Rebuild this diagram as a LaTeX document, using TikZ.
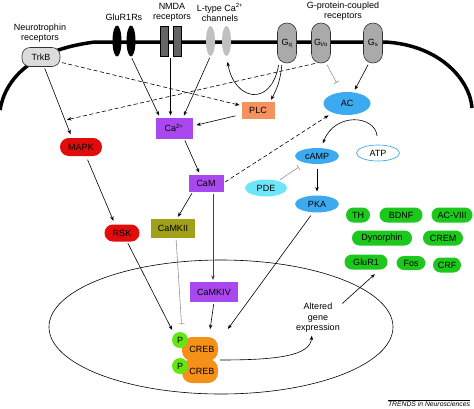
\documentclass[tikz,border=0pt]{standalone}
\usepackage{fontspec}
\setmainfont{Liberation Sans}
\usetikzlibrary{arrows.meta,calc,shapes.geometric}
\definecolor{cpurple}{RGB}{170,72,240}
\definecolor{cred}{RGB}{225,12,12}
\definecolor{cblue}{RGB}{60,170,240}
\definecolor{ccyan}{RGB}{110,230,250}
\definecolor{cgreen}{RGB}{28,200,28}
\definecolor{cpgreen}{RGB}{100,230,20}
\definecolor{corange}{RGB}{245,145,25}
\definecolor{cplc}{RGB}{245,145,95}
\definecolor{colive}{RGB}{160,160,25}
\definecolor{cgrec}{RGB}{170,170,170}
\definecolor{ctrk}{RGB}{220,220,220}
\definecolor{cltype}{RGB}{192,192,192}
\definecolor{cnmda}{RGB}{100,100,100}
\newcommand\figfont{\fontsize{9}{10.5}\selectfont}
\tikzset{
  base/.style={font=\figfont, inner sep=0pt, outer sep=0pt, text=black},
  lbl/.style={base, align=center},
  pbox/.style={base, rectangle, fill=cpurple},
  capsule/.style={base, rectangle, rounded corners=#1},
  oval/.style={base, ellipse},
  gene/.style={base, rectangle, fill=cgreen, rounded corners=7.4pt, minimum height=15pt},
  grec/.style={base, rectangle, fill=cgrec, draw=gray!40!black, line width=0.6pt, rounded corners=9.4pt, minimum width=19pt, minimum height=40pt},
  arr/.style={-{Stealth[length=4.5pt,width=3.5pt]}, line width=0.6pt, shorten >=2pt, shorten <=2pt},
  dsh/.style={dash pattern=on 4pt off 2.5pt},
  inh/.style={-{Bar[width=6pt]}, draw=gray!85, line width=0.6pt, shorten <=2pt},
}
\begin{document}
\begin{tikzpicture}[x=1pt,y=-1pt]
\useasboundingbox (0,0) rectangle (474,408);

% nucleus
\draw[line width=0.6pt] (221,327) ellipse [x radius=172pt, y radius=67pt];
% membrane
\draw[line width=3.5pt] (0,110) .. controls (5,80) and (30,50) .. (95,42) -- (385,42) .. controls (440,45) and (470,80) .. (472,108);

% receptors
\node[capsule=8pt, fill=ctrk, draw=gray!40!black, line width=0.6pt, minimum width=38pt, minimum height=19pt] (TrkB) at (41,57) {TrkB};
\node[lbl] (ntrlab) at (40,33) {Neurotrophin\\receptors};

\node[oval, fill=black, minimum width=9pt, minimum height=31pt] (GluR1) at (117,41) {};
\node[oval, fill=black, minimum width=9pt, minimum height=31pt] (GluR2) at (131,41) {};
\node[lbl] (glulab) at (124,17) {GluR1Rs};

\node[base, rectangle, fill=cnmda, draw=black, line width=0.5pt, minimum width=8pt, minimum height=30pt] (N1) at (164,41) {};
\node[base, rectangle, fill=cnmda, draw=black, line width=0.5pt, minimum width=8pt, minimum height=30pt] (N2) at (177,41) {};
\node[lbl] (nmdalab) at (172,12.5) {NMDA\\receptors};

\node[oval, fill=cltype, minimum width=9pt, minimum height=30pt] (L1) at (210.5,41) {};
\node[oval, fill=cltype, minimum width=9pt, minimum height=30pt] (L2) at (226.5,41) {};
\node[lbl] (ltlab) at (220,12.5) {L-type Ca\textsuperscript{2+}\\channels};

\node[grec] (Gq) at (287,43) {G\textsubscript{q}};
\node[grec] (Gio) at (321,43) {G\textsubscript{i/o}};
\node[grec] (Gs) at (373,43) {G\textsubscript{s}};
\node[lbl] (gpcrlab) at (343,11) {G-protein-coupled\\receptors};

% signalling nodes
\node[base, rectangle, fill=cplc, minimum width=33pt, minimum height=17pt] (PLC) at (258,110) {PLC};
\node[oval, fill=cblue, minimum width=47pt, minimum height=23pt] (AC) at (347,103.5) {AC};
\node[pbox, minimum width=37pt, minimum height=21pt] (Ca) at (174,128) {Ca\textsuperscript{2+}};
\node[pbox, minimum width=35pt, minimum height=17pt] (CaM) at (206,183) {CaM};
\node[base, rectangle, fill=colive, minimum width=44pt, minimum height=19pt] (CaMKII) at (173,228) {CaMKII};
\node[pbox, minimum width=48pt, minimum height=20pt] (CaMKIV) at (214,292) {CaMKIV};
\node[capsule=8.9pt, fill=cred, minimum width=42pt, minimum height=18pt] (MAPK) at (81,147) {MAPK};
\node[capsule=8.4pt, fill=cred, minimum width=35pt, minimum height=17pt] (RSK) at (122,233) {RSK};
\node[oval, fill=cblue, minimum width=44pt, minimum height=16pt] (cAMP) at (317,156) {cAMP};
\node[oval, fill=white, draw=cblue, line width=0.7pt, minimum width=43pt, minimum height=16pt] (ATP) at (378,153) {ATP};
\node[oval, fill=ccyan, minimum width=42pt, minimum height=17pt] (PDE) at (266,188) {PDE};
\node[oval, fill=cblue, minimum width=44pt, minimum height=17pt] (PKA) at (317,204) {PKA};

% CREB and P
\node[capsule=10pt, fill=corange, minimum width=36pt, minimum height=24pt] (CREB1) at (200,349) {\hspace{4pt}CREB};
\node[capsule=10pt, fill=corange, minimum width=36pt, minimum height=24pt] (CREB2) at (200,371) {\hspace{4pt}CREB};
\node[base, circle, fill=cpgreen, minimum size=16pt] (P1) at (180,340) {P};
\node[base, circle, fill=cpgreen, minimum size=16pt] (P2) at (180,366) {P};

% genes
\node[gene, minimum width=24pt] (TH) at (358,215) {TH};
\node[gene, minimum width=43pt] (BDNF) at (401,215) {BDNF};
\node[gene, minimum width=41pt] (ACVIII) at (452,215) {AC-VIII};
\node[gene, minimum width=60pt] (Dyn) at (382,238) {Dynorphin};
\node[gene, minimum width=40pt] (CREM) at (443,238) {CREM};
\node[gene, minimum width=43pt] (GluRone) at (366,262) {GluR1};
\node[gene, minimum width=29pt, minimum height=14pt] (Fos) at (411,263) {Fos};
\node[gene, minimum width=28pt] (CRF) at (447,265) {CRF};

\node[lbl, inner sep=1pt] (AGE) at (318,318) {Altered\\gene\\expression};

\node[base, font=\itshape\fontsize{6.8}{8}\selectfont] (trends) at (429,404) {TRENDS in Neurosciences};
\draw[line width=0.4pt] ([yshift=1.5pt]trends.north west) -- ([yshift=1.5pt]trends.north east);

% connectors
\path ([xshift=3pt]TrkB.south) -- (MAPK.135) coordinate[pos=0.75] (mj);
\draw[arr, shorten >=4pt] ([xshift=3pt]TrkB.south) -- (MAPK.135);
\draw[arr, dsh] ([xshift=-4pt]Gio.south) -- (mj);
\draw[arr, dsh] (TrkB.-15) -- (PLC.165);
\draw[arr] (GluR2.south) -- ([xshift=-14pt]Ca.north);
\coordinate (nmdab) at ($(N1.south)!0.5!(N2.south)$);
\draw[arr] (nmdab) -- (nmdab |- Ca.north);
\draw[arr] (L1.south) -- ([xshift=9pt]Ca.north);
\draw[arr, shorten <=6pt, shorten >=4pt] (PLC.195) -- ([yshift=2pt]Ca.east);
\draw[arr] ([xshift=-5pt]Gq.south) to[bend left=12] ([xshift=12pt]PLC.north);
\draw[arr, shorten >=6pt] ([xshift=-8pt]Gq.south) to[out=-100, in=-80, looseness=2.2] (L2.south);
\draw[inh, shorten >=11pt] ([xshift=5pt]Gio.south) -- (AC.115);
\draw[arr, shorten >=3pt] ([xshift=-4pt]Gs.south) -- (AC.60);
\draw[arr] ([xshift=10pt]Ca.south) -- ([xshift=-6pt]CaM.north);
\draw[arr, dsh, shorten >=5pt] (CaM.east) -- (AC);
\draw[arr] ([xshift=-13pt]CaM.south) -- ([xshift=4pt]CaMKII.north);
\draw[arr, draw=black!75] ([xshift=7pt]CaM.south) -- ([xshift=7pt]CaM.south |- CaMKIV.north);
\draw[inh, shorten >=8pt] ([xshift=3pt]CaMKII.south) -- ([xshift=2pt]P1.north);
\draw[arr, shorten >=8pt] (CaMKIV.south) -- ([xshift=9pt]CREB1.north);
\draw[arr, shorten <=4pt, shorten >=10pt] (PKA.-115) -- ([xshift=4pt]CREB1.north east);
\draw[arr, shorten >=5pt] ([xshift=5pt]RSK.south) -- (P1.135);
\draw[arr, shorten <=4pt, shorten >=4pt] ([xshift=5pt]MAPK.south) -- ([xshift=-7pt]RSK.north);
\draw[arr, shorten <=9pt, shorten >=5pt] (ATP.north) .. controls (375,115) and (335,112) .. ([xshift=4pt]cAMP.north);
\draw[arr, shorten <=5pt, shorten >=4pt] (cAMP.south) -- (PKA.north);
\draw[inh, shorten >=8pt] (PDE.30) -- (cAMP.-150);
\coordinate (crebmid) at ($(CREB1.east)!0.5!(CREB2.east)$);
\draw[arr] (crebmid) .. controls +(60,0) and +(-2,22) .. ([xshift=-6pt]AGE.south);
\draw[arr, shorten >=7pt] (AGE.30) -- ([xshift=14pt]GluRone.south);
\end{tikzpicture}
\end{document}
